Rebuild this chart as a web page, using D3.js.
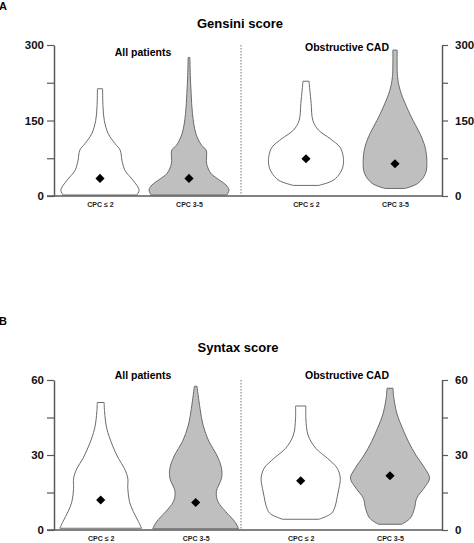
<!DOCTYPE html>
<html lang="en">
<head>
  <meta charset="UTF-8">
  <title>Gensini and Syntax score</title>
  <script src="https://d3js.org/d3.v7.min.js"></script>
  <style>
    * { margin: 0; padding: 0; box-sizing: border-box; }
    body { background: #fff; font-family: "Liberation Sans", Arial, sans-serif; }
    svg { display: block; }
  </style>
</head>
<body>
  <div id="chart"></div>

  <script>
    const groups = ["All patients", "Obstructive CAD"];
    const categories = ["CPC ≤ 2", "CPC 3-5"];

    // Gensini score (panel A)
    const gensiniTicks = [0, 75, 150, 225, 300];
    const gensiniTickLabels = [0, 150, 300];
    const gensiniMeans = [35, 35, 74, 64];
    const gensiniAllLowLevels = [2, 11, 18, 31, 51, 71, 91, 104, 124, 150, 177, 213];
    const gensiniAllLowDensity = [0.86, 0.91, 0.88, 0.77, 0.58, 0.51, 0.47, 0.35, 0.19, 0.10, 0.07, 0.06];
    const gensiniAllHighLevels = [2, 12, 22, 31, 45, 64, 91, 101, 124, 164, 204, 240, 275];
    const gensiniAllHighDensity = [0.88, 0.93, 0.86, 0.72, 0.51, 0.41, 0.40, 0.29, 0.16, 0.08, 0.05, 0.03, 0.02];
    const gensiniCadLowLevels = [21, 31, 48, 64, 81, 97, 114, 131, 150, 184, 210, 228];
    const gensiniCadLowDensity = [0.29, 0.63, 0.81, 0.87, 0.86, 0.79, 0.56, 0.29, 0.16, 0.12, 0.09, 0.07];
    const gensiniCadHighLevels = [15, 25, 45, 71, 97, 124, 150, 177, 210, 237, 290];
    const gensiniCadHighDensity = [0.23, 0.53, 0.71, 0.74, 0.70, 0.58, 0.42, 0.27, 0.12, 0.06, 0.05];

    // Syntax score (panel B)
    const syntaxTicks = [0, 15, 30, 45, 60];
    const syntaxTickLabels = [0, 30, 60];
    const syntaxMeans = [12, 11, 19.7, 21.7];
    const syntaxAllLowLevels = [0.7, 3.3, 7.3, 11.3, 16.7, 20.7, 24.7, 28.7, 34, 40.7, 47.3, 51];
    const syntaxAllLowDensity = [0.95, 0.88, 0.76, 0.67, 0.63, 0.63, 0.55, 0.41, 0.27, 0.14, 0.09, 0.08];
    const syntaxAllHighLevels = [0.5, 3.3, 7.3, 11.3, 15.3, 20.7, 24.7, 30, 35.3, 42, 48.7, 57.5];
    const syntaxAllHighDensity = [1.0, 0.91, 0.70, 0.52, 0.48, 0.60, 0.60, 0.49, 0.31, 0.17, 0.10, 0.03];
    const syntaxCadLowLevels = [4.3, 6.7, 10, 13.3, 16.7, 20.7, 24.7, 28.7, 32.7, 38, 44.7, 49.6];
    const syntaxCadLowDensity = [0.42, 0.72, 0.81, 0.85, 0.89, 0.92, 0.85, 0.62, 0.35, 0.17, 0.12, 0.12];
    const syntaxCadHighLevels = [2.3, 4.7, 8.7, 12.7, 16.7, 20.7, 24.7, 30, 35.3, 40.7, 46, 52.7, 56.7];
    const syntaxCadHighDensity = [0.27, 0.47, 0.57, 0.62, 0.79, 0.92, 0.81, 0.60, 0.43, 0.29, 0.17, 0.09, 0.07];

    const W = 474, H = 543;
    const axisColor = "#595959";
    const fills = ["#ffffff", "#bfbfbf"];

    const svg = d3.select("#chart")
      .append("svg")
      .attr("width", W)
      .attr("height", H);

    const toPoints = (levels, density) => levels.map((v, i) => ({v: v, d: density[i]}));

    const panels = [
      {
        letter: "A", letterY: 10,
        title: "Gensini score", titleX: 240, titleY: 27.5,
        max: 300, ticks: gensiniTicks, labels: gensiniTickLabels,
        y0: 196, y1: 45,
        groupLabelY: [55.5, 50.5],
        leftRange: [100, 189], rightRange: [306, 395],
        means: gensiniMeans,
        violins: [
          toPoints(gensiniAllLowLevels, gensiniAllLowDensity),
          toPoints(gensiniAllHighLevels, gensiniAllHighDensity),
          toPoints(gensiniCadLowLevels, gensiniCadLowDensity),
          toPoints(gensiniCadHighLevels, gensiniCadHighDensity)
        ]
      },
      {
        letter: "B", letterY: 325,
        title: "Syntax score", titleX: 238, titleY: 352,
        max: 60, ticks: syntaxTicks, labels: syntaxTickLabels,
        y0: 530, y1: 380,
        groupLabelY: [379, 379],
        leftRange: [100.7, 195.7], rightRange: [300.7, 390],
        means: syntaxMeans,
        violins: [
          toPoints(syntaxAllLowLevels, syntaxAllLowDensity),
          toPoints(syntaxAllHighLevels, syntaxAllHighDensity),
          toPoints(syntaxCadLowLevels, syntaxCadLowDensity),
          toPoints(syntaxCadHighLevels, syntaxCadHighDensity)
        ]
      }
    ];

    const axisLeftX = 54, axisRightX = 442, dividerX = 241;

    panels.forEach(p => {
      const g = svg.append("g");

      const y = d3.scaleLinear().domain([0, p.max]).range([p.y0, p.y1]);
      const w = d3.scaleLinear().domain([0, 1]).range([0, 43]);
      const xLeft = d3.scalePoint().domain(categories).range(p.leftRange);
      const xRight = d3.scalePoint().domain(categories).range(p.rightRange);

      // panel letter and title
      g.append("text")
        .attr("x", -1).attr("y", p.letterY)
        .style("font-size", "11px").style("font-weight", "bold")
        .text(p.letter);

      g.append("text")
        .attr("x", p.titleX).attr("y", p.titleY)
        .attr("text-anchor", "middle")
        .style("font-size", "13px").style("font-weight", "bold")
        .text(p.title);

      // violins
      const area = d3.area()
        .curve(d3.curveCatmullRom.alpha(0.5))
        .y(d => y(d.v));

      const centers = [xLeft(categories[0]), xLeft(categories[1]), xRight(categories[0]), xRight(categories[1])];

      p.violins.forEach((pts, i) => {
        const cx = centers[i];
        g.append("path")
          .datum(pts)
          .attr("d", area.x0(d => cx - w(d.d)).x1(d => cx + w(d.d)))
          .attr("fill", fills[i % 2])
          .attr("stroke", "#6b6b6b")
          .attr("stroke-width", 1);
      });

      // means
      g.selectAll(".mean")
        .data(p.means)
        .enter()
        .append("path")
        .attr("d", d3.symbol(d3.symbolSquare, 42)())
        .attr("transform", (d, i) => `translate(${centers[i]},${y(d)}) rotate(45)`)
        .attr("fill", "#000");

      // baseline
      g.append("line")
        .attr("x1", axisLeftX - 7).attr("x2", axisRightX)
        .attr("y1", p.y0).attr("y2", p.y0)
        .attr("stroke", axisColor).attr("stroke-width", 1.5);

      // y axes
      const fmt = d => p.labels.includes(d) ? d : "";
      const left = g.append("g")
        .attr("transform", `translate(${axisLeftX},0)`)
        .call(d3.axisLeft(y).tickValues(p.ticks).tickSize(7).tickSizeOuter(0).tickPadding(3).tickFormat(fmt));
      const right = g.append("g")
        .attr("transform", `translate(${axisRightX},0)`)
        .call(d3.axisRight(y).tickValues(p.ticks).tickSize(6).tickSizeOuter(0).tickPadding(7).tickFormat(fmt));

      [left, right].forEach(a => {
        a.select(".domain").attr("stroke", axisColor).attr("stroke-width", 1.5);
        a.selectAll("line").attr("stroke", axisColor).attr("stroke-width", 1.2);
        a.selectAll("text")
          .style("font-size", "11.5px").style("font-weight", "bold")
          .style("font-family", "'Liberation Sans', Arial, sans-serif")
          .attr("fill", "#111");
      });

      // divider
      g.append("line")
        .attr("x1", dividerX).attr("x2", dividerX)
        .attr("y1", p.y1).attr("y2", p.y0)
        .attr("stroke", "#777").attr("stroke-width", 1)
        .attr("stroke-dasharray", "1.5,1.5");

      // group labels
      g.selectAll(".group")
        .data(groups)
        .enter()
        .append("text")
        .attr("x", (d, i) => i === 0 ? 143 : 347)
        .attr("y", (d, i) => p.groupLabelY[i])
        .attr("text-anchor", "middle")
        .style("font-size", "10.5px").style("font-weight", "bold")
        .text(d => d);

      // category labels
      [xLeft, xRight].forEach(x => {
        const a = g.append("g")
          .attr("transform", `translate(0,${p.y0})`)
          .call(d3.axisBottom(x).tickSize(0).tickPadding(6));
        a.select(".domain").remove();
        a.selectAll("text")
          .style("font-size", "7px").style("font-weight", "bold")
          .style("font-family", "'Liberation Sans', Arial, sans-serif")
          .attr("fill", "#222");
      });
    });
  </script>
</body>
</html>
